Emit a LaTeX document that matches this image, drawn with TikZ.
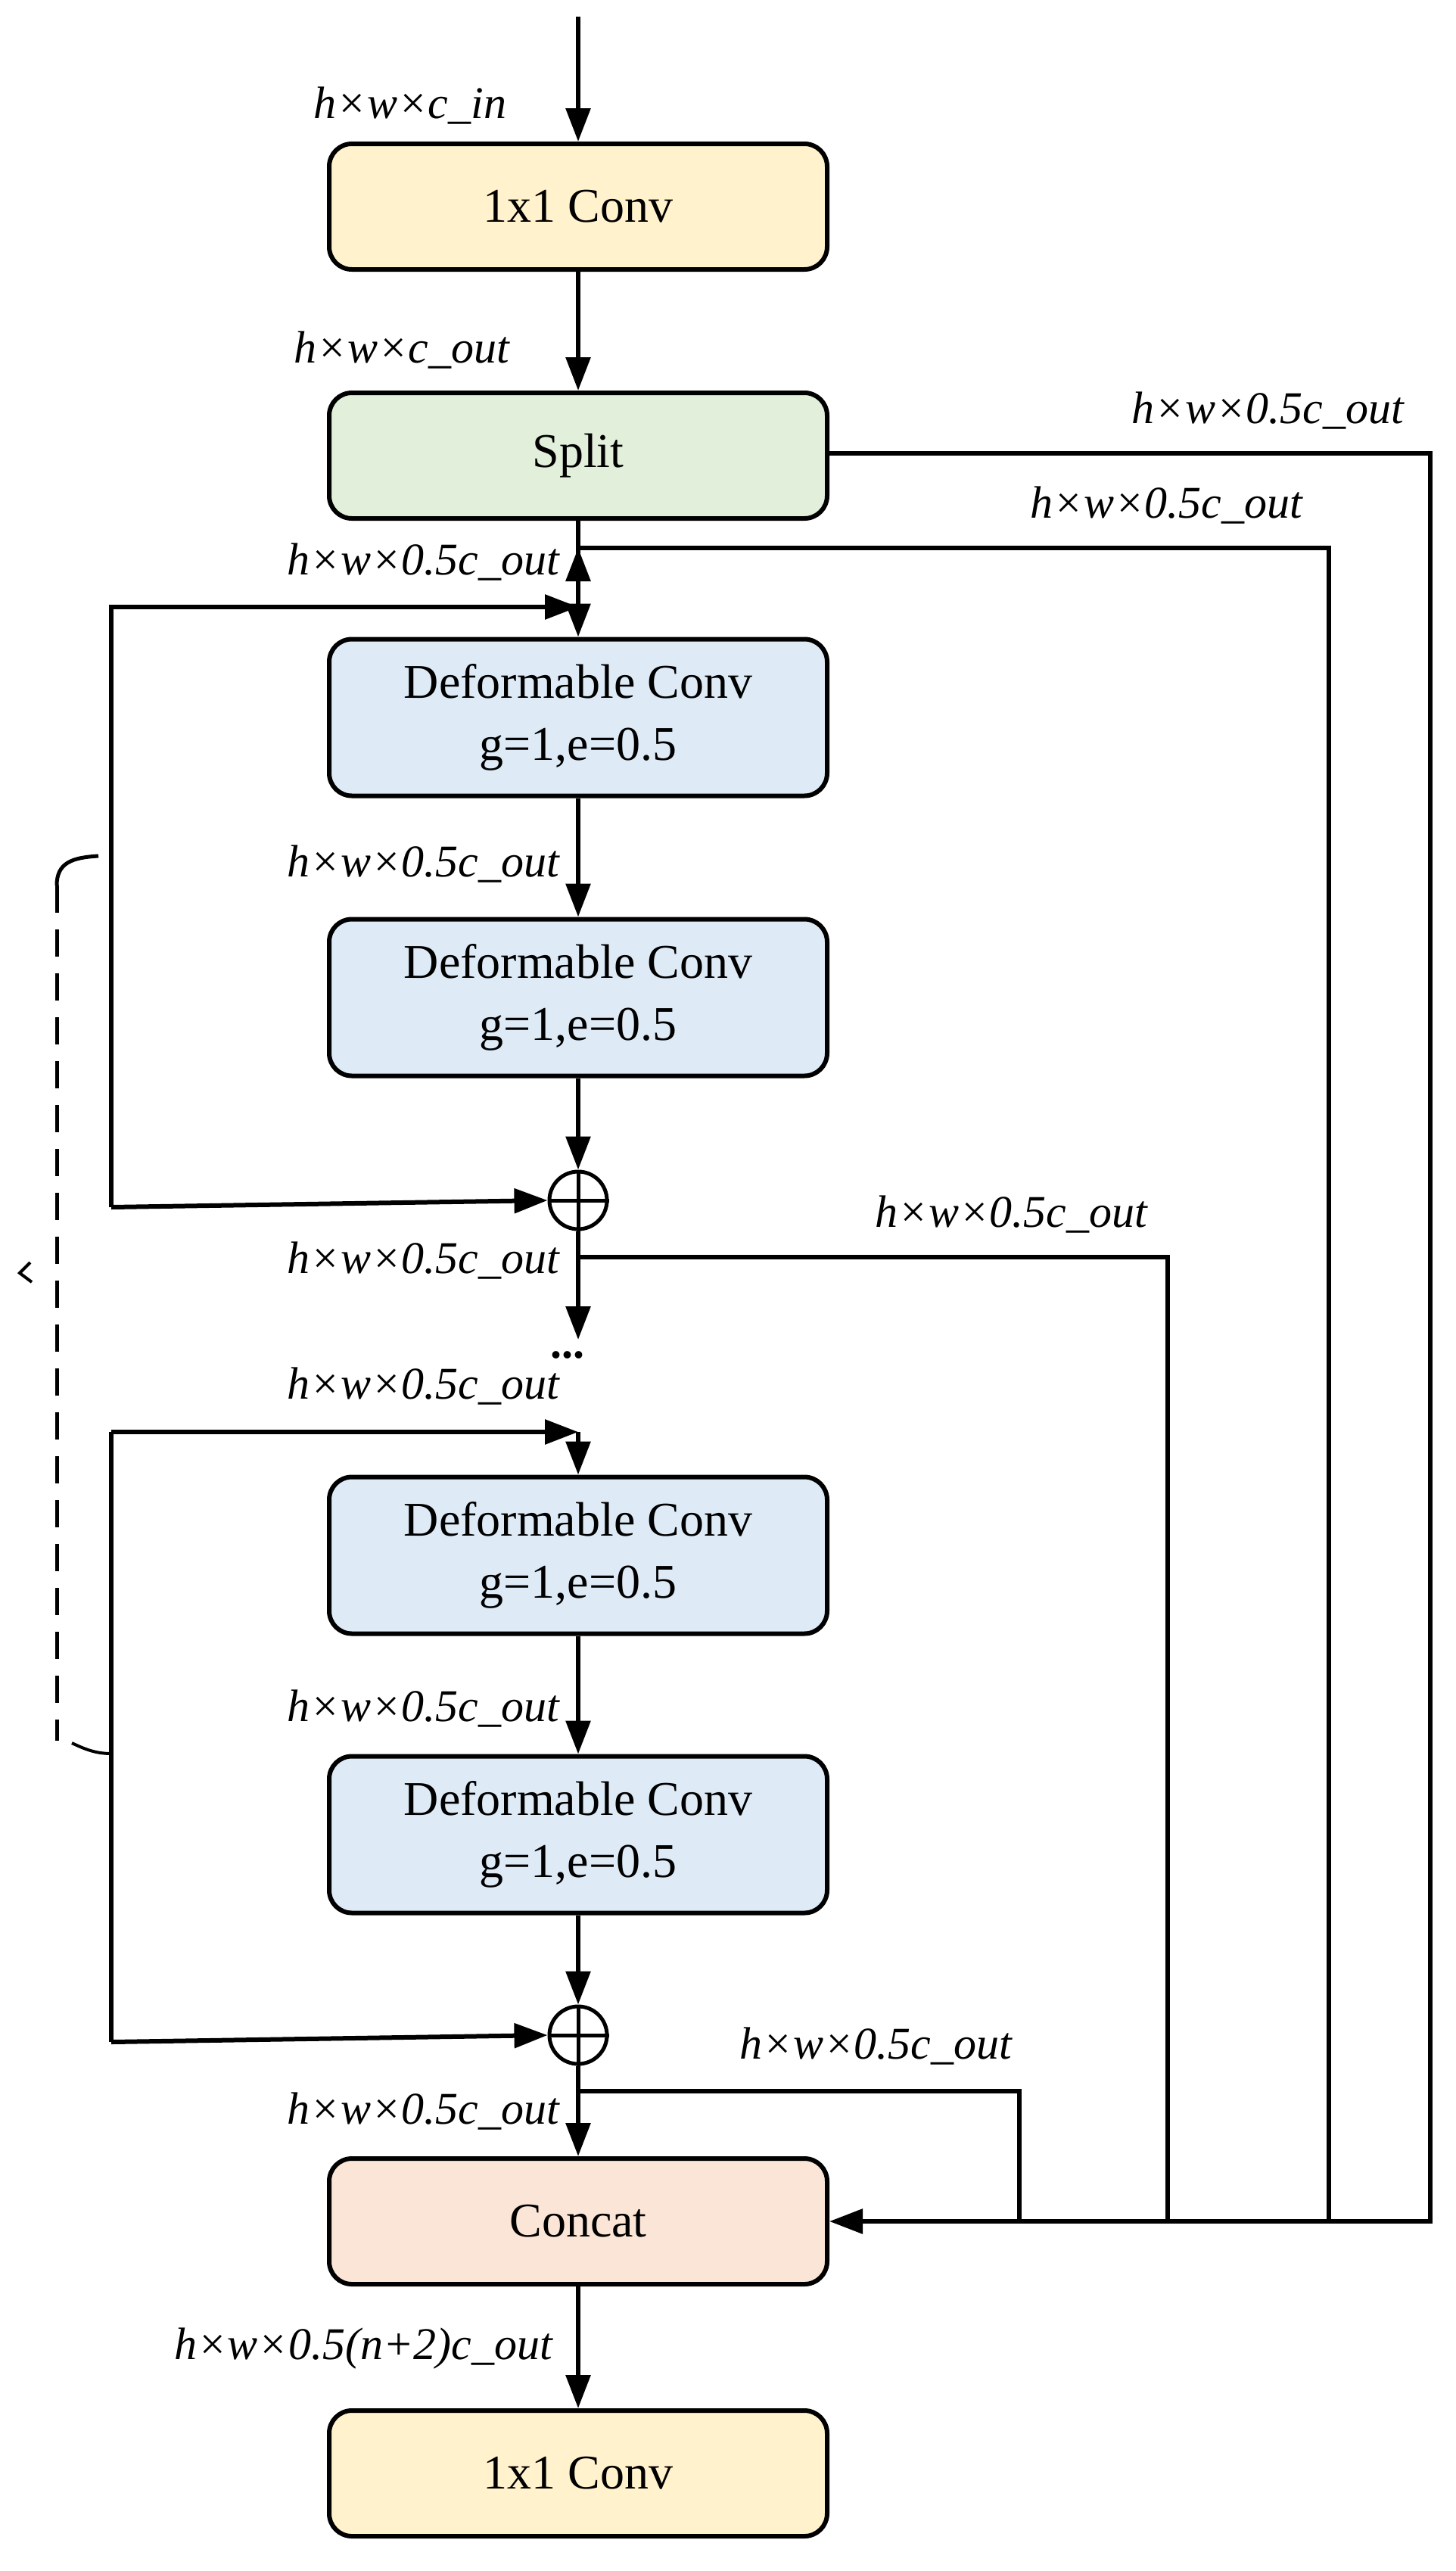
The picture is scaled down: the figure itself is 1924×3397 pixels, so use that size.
\documentclass[tikz,border=0pt]{standalone}
\usepackage{fontspec}
\setmainfont{Liberation Serif}
\usetikzlibrary{arrows.meta,calc}
\begin{document}
\begin{tikzpicture}[x=1pt,y=-1pt,line width=6pt,
  box/.style={draw,rounded corners=30pt,minimum width=658pt,inner sep=0pt,align=center,font=\fontsize{64}{82}\selectfont},
  lab/.style={font=\fontsize{60}{70}\selectfont\itshape,inner sep=0pt},
  arr/.style={-{Triangle[length=44pt,width=32pt]}},
  op/.style={draw,circle,minimum size=76pt,inner sep=0pt,line width=5pt}]
\useasboundingbox (0,0) rectangle (1924,3397);
\definecolor{cy}{HTML}{FFF2CC}\definecolor{cg}{HTML}{E2EFDA}
\definecolor{cb}{HTML}{DEEBF7}\definecolor{cp}{HTML}{FBE5D6}
\node[box,fill=cy,minimum height=166pt] (c1) at (764,273) {1x1 Conv};
\node[box,fill=cg,minimum height=166pt] (sp) at (764,602) {Split};
\node[box,fill=cb,minimum height=207pt] (d1) at (764,948) {Deformable Conv\\g=1,e=0.5};
\node[box,fill=cb,minimum height=207pt] (d2) at (764,1318) {Deformable Conv\\g=1,e=0.5};
\node[op] (o1) at (764,1586) {};
\node[box,fill=cb,minimum height=207pt] (d3) at (764,2055) {Deformable Conv\\g=1,e=0.5};
\node[box,fill=cb,minimum height=207pt] (d4) at (764,2424) {Deformable Conv\\g=1,e=0.5};
\node[op] (o2) at (764,2689) {};
\node[box,fill=cp,minimum height=166pt] (cc) at (764,2935) {Concat};
\node[box,fill=cy,minimum height=166pt] (c2) at (764,3268) {1x1 Conv};
\foreach \o in {o1,o2}{\draw[line width=5pt] (\o.north)--(\o.south) (\o.west)--(\o.east);}
\coordinate (top) at (764,22);
\coordinate (j1) at (764,724); \coordinate (in1) at (764,802);
\coordinate (j2) at (764,1661); \coordinate (dots) at (764,1770);
\coordinate (in2) at (764,1892); \coordinate (j3) at (764,2763);
\draw[arr] (top)--(c1);
\draw[arr] (c1)--(sp);
\draw (sp.south)--(j1);
\draw[arr] (j1)--(d1);
\draw[arr] (d1)--(d2);
\draw[arr] (d2)--(o1);
\draw (o1)--(j2);
\draw[arr] (j2)--(dots);
\node[font=\fontsize{60}{60}\selectfont\bfseries,inner sep=0pt] (dd) at (750,1790) {...};
\draw[arr] (in2)--(d3);
\draw[arr] (d3)--(d4);
\draw[arr] (d4)--(o2);
\draw[arr] (o2)--(cc);
\draw[arr] (cc)--(c2);
% residual loops
\draw[arr] (in1) ++(0,0) coordinate (a1) (j1) -- (j1);
\draw[arr] (147,1595) coordinate(l1b) -- (o1.west);
\draw (l1b) -- (147,802) -- ($(in1)+(-10,0)$);
\draw[arr] (147,802) -- (in1);
\draw[arr] (147,2698) coordinate(l2b) -- (o2.west);
\draw (l2b) -- (147,1892);
\draw[arr] (147,1892) -- (in2);
% skip lines to concat
\draw[arr] (sp.east|-0,599) -- (1890,599) -- (1890,2935) -- (cc.east);
\draw (j1) -- (1756,724) -- (1756,2935);
\draw (j2) -- (1543,1661) -- (1543,2935);
\draw (j3) -- (1347,2763) -- (1347,2935);
% labels
\node[lab,anchor=east] at (672,140) {h×w×c\_in};
\node[lab,anchor=east] at (676,463) {h×w×c\_out};
\node[lab,anchor=east] at (1858,543) {h×w×0.5c\_out};
\node[lab,anchor=east] at (1724,668) {h×w×0.5c\_out};
\node[lab,anchor=east] at (742,743) {h×w×0.5c\_out};
\node[lab,anchor=east] at (742,1142) {h×w×0.5c\_out};
\node[lab,anchor=east] at (1519,1605) {h×w×0.5c\_out};
\node[lab,anchor=east] at (742,1666) {h×w×0.5c\_out};
\node[lab,anchor=east] at (742,1832) {h×w×0.5c\_out};
\node[lab,anchor=east] at (742,2258) {h×w×0.5c\_out};
\node[lab,anchor=east] at (1340,2704) {h×w×0.5c\_out};
\node[lab,anchor=east] at (742,2790) {h×w×0.5c\_out};
\node[lab,anchor=east] at (733,3103) {h×w×0.5(n+2)c\_out};
% dashed brace
\draw[line width=5pt,dash pattern=on 36pt off 22pt] (75,1170) -- (75,2300);
\draw[line width=5pt] (75,1170) .. controls (75,1140) and (95,1133) .. (130,1131);
\draw[line width=4pt] (95,2303) .. controls (110,2310) and (125,2317) .. (147,2317);
\draw[line width=4pt] (40,1668) -- (26,1682) -- (42,1694);
\end{tikzpicture}
\end{document}
